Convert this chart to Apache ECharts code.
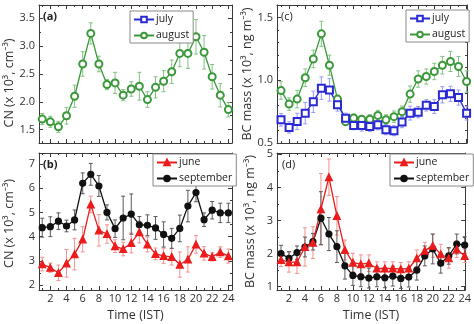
<!DOCTYPE html>
<html>
<head>
<meta charset="utf-8">
<script src="https://cdn.jsdelivr.net/npm/echarts@6/dist/echarts.min.js"></script>
<style>
html, body { margin: 0; padding: 0; background: #fff; }
#chart { width: 474px; height: 324px; }
</style>
</head>
<body>
<div id="chart"></div>
<script>
// Hour of day (IST)
const hours = [1,2,3,4,5,6,7,8,9,10,11,12,13,14,15,16,17,18,19,20,21,22,23,24];
const hourLabels = [2,4,6,8,10,12,14,16,18,20,22,24];
const hourMinor = [1,3,5,7,9,11,13,15,17,19,21,23];

// (a) CN, august
const cnAugust    = [1.69,1.64,1.55,1.75,2.10,2.68,3.23,2.68,2.31,2.34,2.12,2.23,2.28,2.04,2.26,2.37,2.54,2.87,2.87,3.17,2.89,2.45,2.12,1.86];
const cnAugustErr = [0.10,0.10,0.10,0.15,0.20,0.22,0.19,0.14,0.09,0.19,0.10,0.13,0.25,0.14,0.19,0.19,0.21,0.24,0.27,0.31,0.30,0.22,0.21,0.13];

// (b) CN, june and september
const cnJune         = [2.87,2.72,2.51,2.90,3.28,3.89,5.33,4.26,4.11,3.61,3.49,3.74,4.19,3.68,3.29,3.21,3.17,2.85,3.06,3.68,3.31,3.17,3.36,3.20];
const cnJuneErr      = [0.28,0.19,0.32,0.57,0.65,0.52,0.34,0.65,0.38,0.26,0.28,0.41,0.45,0.31,0.24,0.31,0.34,0.52,0.52,0.36,0.28,0.17,0.22,0.29];
const cnSeptember    = [4.37,4.41,4.64,4.44,4.69,6.20,6.57,6.09,5.00,4.33,4.77,4.93,4.49,4.47,4.36,4.09,3.93,4.34,5.26,5.82,4.70,5.09,4.98,4.98];
const cnSeptemberErr = [0.39,0.41,0.34,0.24,0.41,0.43,0.45,0.43,0.31,0.36,0.90,0.83,0.34,0.43,0.47,0.52,0.41,0.55,0.65,0.38,0.28,0.36,0.40,0.40];

// (c) BC mass, july and august
const bcJuly      = [0.685,0.624,0.672,0.738,0.828,0.937,0.923,0.804,0.698,0.640,0.640,0.632,0.645,0.606,0.598,0.667,0.738,0.746,0.800,0.790,0.884,0.892,0.862,0.738];
const bcJulyErr   = [0.050,0.045,0.065,0.085,0.085,0.090,0.090,0.050,0.040,0.035,0.045,0.040,0.040,0.040,0.040,0.045,0.055,0.045,0.045,0.055,0.065,0.060,0.060,0.055];
const bcAugust    = [0.918,0.810,0.850,1.020,1.170,1.370,1.120,0.850,0.670,0.700,0.690,0.690,0.720,0.685,0.710,0.750,0.890,1.010,1.030,1.070,1.120,1.150,1.110,0.990];
const bcAugustErr = [0.070,0.050,0.070,0.070,0.070,0.100,0.080,0.030,0.030,0.030,0.030,0.035,0.040,0.040,0.045,0.045,0.065,0.065,0.060,0.065,0.070,0.080,0.080,0.085];

// (d) BC mass, june and september
const bcJune         = [1.81,1.74,1.74,2.20,2.33,3.34,4.31,3.14,2.11,1.73,1.68,1.71,1.55,1.55,1.55,1.53,1.55,1.86,2.09,2.24,1.98,1.86,2.13,1.93];
const bcJuneErr      = [0.20,0.30,0.34,0.58,0.48,1.08,0.55,0.58,0.30,0.28,0.28,0.25,0.20,0.20,0.20,0.20,0.20,0.25,0.25,0.35,0.30,0.30,0.25,0.20];
const bcSeptember    = [2.00,1.86,2.03,2.20,2.36,3.07,2.59,2.21,1.63,1.34,1.30,1.26,1.30,1.27,1.32,1.25,1.29,1.50,1.93,2.14,1.71,1.93,2.29,2.26];
const bcSeptemberErr = [0.25,0.20,0.20,0.30,0.25,0.80,0.50,0.48,0.40,0.30,0.30,0.30,0.30,0.30,0.30,0.30,0.30,0.30,0.30,0.45,0.30,0.25,0.30,0.25];

// y tick positions per panel
const yTicksA = [1.5,2.0,2.5,3.0,3.5],  yMinorA = [1.75,2.25,2.75,3.25];
const yTicksB = [2,3,4,5,6,7],          yMinorB = [2.5,3.5,4.5,5.5,6.5];
const yTicksC = [0.5,1.0,1.5],          yMinorC = [0.6,0.7,0.8,0.9,1.1,1.2,1.3,1.4];
const yTicksD = [1,2,3,4,5],            yMinorD = [1.5,2.5,3.5,4.5];

const FONT = 'Open Sans, Noto Sans, sans-serif';
const AXIS = '#3a3a3a';
const COLORS = {
  july:      { line: '#2a2ad4', err: '#9a9af2' },
  august:    { line: '#3b993b', err: '#84c284' },
  june:      { line: '#ec1c1c', err: '#f39090' },
  september: { line: '#111111', err: '#5a5a5a' }
};

const grids = [
  { left: 39,  top: 5,   width: 193, height: 138 },
  { left: 39,  top: 153, width: 193, height: 137 },
  { left: 277, top: 5,   width: 190, height: 138 },
  { left: 277, top: 153, width: 190, height: 137 }
];

// Four axes per side pair: main (with line, major ticks, labels), minor ticks,
// and the mirrored frame side with its own major/minor ticks.
function frameAxes(dim, gridIndex, min, max, majors, minors, labelVals, fmt, name, nameGap, namePad) {
  const near = dim === 'x' ? 'bottom' : 'left';
  const far = dim === 'x' ? 'top' : 'right';
  const base = {
    type: 'value', gridIndex, min, max, splitLine: { show: false },
    axisLine: { show: false }, axisLabel: { show: false }, axisTick: { show: false }
  };
  const tick = (vals, len) => ({ show: true, inside: true, length: len, customValues: vals, lineStyle: { color: AXIS, width: 1 } });
  const main = Object.assign({}, base, {
    position: near,
    axisLine: { show: true, onZero: false, lineStyle: { color: AXIS, width: 1 } },
    axisTick: tick(majors, 4),
    axisLabel: labelVals ? {
      show: true, customValues: labelVals, formatter: fmt, color: '#333',
      fontSize: 11, fontFamily: FONT, margin: dim === 'x' ? 3 : 4
    } : { show: false }
  });
  if (name) {
    Object.assign(main, {
      name, nameLocation: 'middle', nameGap,
      nameTextStyle: { fontSize: 12.5, fontFamily: FONT, color: '#333', padding: namePad || 0 }
    });
  }
  const minor = Object.assign({}, base, { position: near, axisTick: tick(minors, 2) });
  const farMain = Object.assign({}, base, {
    position: far,
    axisLine: { show: true, onZero: false, lineStyle: { color: AXIS, width: 1 } },
    axisTick: tick(majors, 4)
  });
  const farMinor = Object.assign({}, base, { position: far, axisTick: tick(minors, 2) });
  return [main, minor, farMain, farMinor];
}

const f1 = v => v.toFixed(1);
const f0 = v => String(Math.round(v));
const yNameCN = 'CN (x 10³, cm⁻³)';
const yNameBC = 'BC mass (x 10³, ng m⁻³)';

const xAxes = [].concat(
  frameAxes('x', 0, 0.6, 24.45, hourLabels, hourMinor, null),
  frameAxes('x', 1, 0.6, 24.45, hourLabels, hourMinor, hourLabels, f0, 'Time (IST)', 19),
  frameAxes('x', 2, 0.5, 24.05, hourLabels, hourMinor, null),
  frameAxes('x', 3, 0.5, 24.05, hourLabels, hourMinor, hourLabels, f0, 'Time (IST)', 19)
);
const yAxes = [].concat(
  frameAxes('y', 0, 1.26, 3.74, yTicksA, yMinorA, yTicksA, f1, yNameCN, 23, [0, 18, 0, 0]),
  frameAxes('y', 1, 1.8, 7.45, yTicksB, yMinorB, yTicksB, f0, yNameCN, 23, [0, 4, 0, 0]),
  frameAxes('y', 2, 0.5, 1.6, yTicksC, yMinorC, yTicksC, f1, yNameBC, 20),
  frameAxes('y', 3, 0.9, 5.04, yTicksD, yMinorD, yTicksD, f0, yNameBC, 20)
);

function lineSeries(name, panel, values, symbol, size) {
  const c = COLORS[name].line;
  return {
    type: 'line', name, xAxisIndex: panel * 4, yAxisIndex: panel * 4,
    data: values.map((v, i) => [hours[i], v]),
    symbol, symbolSize: size, showAllSymbol: true, z: 3,
    lineStyle: { color: c, width: 1.3 },
    itemStyle: { color: c, borderColor: c, borderWidth: 1.2 },
    emphasis: { disabled: true }, animation: false
  };
}

function errorSeries(name, panel, values, errs) {
  const c = COLORS[name].err;
  return {
    type: 'custom', name: name + ' err', xAxisIndex: panel * 4, yAxisIndex: panel * 4,
    silent: true, z: 2, animation: false,
    data: values.map((v, i) => [hours[i], v - errs[i], v + errs[i]]),
    encode: { x: 0, y: [1, 2] },
    renderItem(params, api) {
      const x = api.value(0);
      const lo = api.coord([x, api.value(1)]);
      const hi = api.coord([x, api.value(2)]);
      const w = 2;
      const style = { stroke: c, lineWidth: 1 };
      return {
        type: 'group',
        children: [
          { type: 'line', shape: { x1: lo[0], y1: lo[1], x2: hi[0], y2: hi[1] }, style },
          { type: 'line', shape: { x1: lo[0] - w, y1: lo[1], x2: lo[0] + w, y2: lo[1] }, style },
          { type: 'line', shape: { x1: hi[0] - w, y1: hi[1], x2: hi[0] + w, y2: hi[1] }, style }
        ]
      };
    }
  };
}

const series = [
  errorSeries('august', 0, cnAugust, cnAugustErr),
  lineSeries('august', 0, cnAugust, 'emptyCircle', 7),
  errorSeries('june', 1, cnJune, cnJuneErr),
  errorSeries('september', 1, cnSeptember, cnSeptemberErr),
  lineSeries('september', 1, cnSeptember, 'circle', 6),
  lineSeries('june', 1, cnJune, 'triangle', 7),
  errorSeries('august', 2, bcAugust, bcAugustErr),
  errorSeries('july', 2, bcJuly, bcJulyErr),
  lineSeries('august', 2, bcAugust, 'emptyCircle', 7),
  lineSeries('july', 2, bcJuly, 'emptyRect', 7),
  errorSeries('june', 3, bcJune, bcJuneErr),
  errorSeries('september', 3, bcSeptember, bcSeptemberErr),
  lineSeries('september', 3, bcSeptember, 'circle', 6),
  lineSeries('june', 3, bcJune, 'triangle', 7)
];

function legendBox(data, left, top) {
  return {
    data, left, top, orient: 'vertical', selectedMode: false,
    backgroundColor: '#fff', borderColor: '#8a8a8a', borderWidth: 1,
    padding: [3, 4, 2, 3], itemGap: 5, itemWidth: 20, itemHeight: 7,
    textStyle: { fontSize: 10.5, fontFamily: FONT, color: '#222', padding: [0, 0, 0, -3] }
  };
}

const panelLabel = (text, x, y, bold) => ({
  type: 'text', left: x, top: y,
  style: { text, fontSize: 11, fontWeight: bold ? 'bold' : 'normal', fontFamily: FONT, fill: '#222' }
});

const chart = echarts.init(document.getElementById('chart'), null, { renderer: 'canvas' });
chart.setOption({
  backgroundColor: '#fff',
  animation: false,
  grid: grids,
  xAxis: xAxes,
  yAxis: yAxes,
  legend: [
    legendBox(['july', 'august'], 130, 11),
    legendBox(['june', 'september'], 153, 154),
    legendBox(['july', 'august'], 406, 10),
    legendBox(['june', 'september'], 390, 154)
  ],
  graphic: [
    panelLabel('(a)', 43, 11, true),
    panelLabel('(b)', 43, 159, true),
    panelLabel('(c)', 281, 11, false),
    panelLabel('(d)', 282, 159, false)
  ],
  series
});
</script>
</body>
</html>
